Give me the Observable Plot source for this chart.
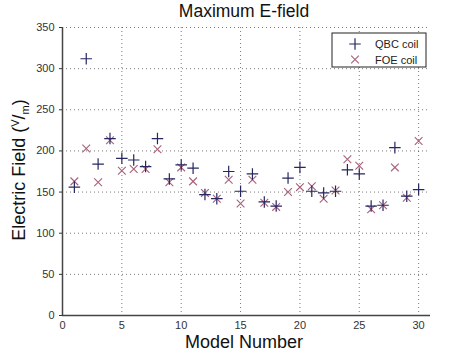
<!DOCTYPE html>
<html><head><meta charset="utf-8">
<script src="https://cdn.jsdelivr.net/npm/d3@7"></script>
<script src="https://cdn.jsdelivr.net/npm/@observablehq/plot@0.6"></script>
<style>body{margin:0;background:#fff} svg{font-family:"Liberation Sans",Arial,sans-serif}</style>
</head><body><div id="chart"></div>
<script>
const models = d3.range(1, 31);
const qbc = [156,312,184,215,191,189,181,215,166,183,179,147,142,175,151,172,138,133,167,180,151,149,151,177,172,133,134,204,145,153];
const foe = [163,203,162,213,176,178,178,202,162,180,163,149,142,165,136,165,137,132,150,156,157,142,152,190,182,129,134,180,143,212];
const xTicks = [0,5,10,15,20,25,30];
const yTicks = [0,50,100,150,200,250,300,350];
const seriesNames = ["QBC coil", "FOE coil"];
const colors = ["#262660", "#a8607a"];

const rows = models.map((m, i) => ({m, qbc: qbc[i], foe: foe[i]}));

const W = 474, H = 355, ML = 62, MR = 44, MT = 27, MB = 40;
const rPlus = 3.8, rTimes = 3.6;
const plot = Plot.plot({
  width: W, height: H,
  marginLeft: ML, marginRight: MR, marginTop: MT, marginBottom: MB,
  style: {fontFamily: '"Liberation Sans", Arial, sans-serif', fontSize: "11px", color: "#333"},
  x: {domain: [0, 31], ticks: xTicks, label: null, tickSize: 0, tickPadding: 6},
  y: {domain: [0, 350], ticks: yTicks, label: null, tickSize: 3, tickPadding: 5},
  marks: [
    Plot.gridX(xTicks.filter(d => d > 0), {stroke: "#222", strokeOpacity: 0.6, strokeDasharray: "1,3"}),
    Plot.gridY(yTicks.filter(d => d > 0), {stroke: "#222", strokeOpacity: 0.6, strokeDasharray: "1,3", x1: 0, x2: 31}),
    Plot.ruleX([0], {stroke: "#444", strokeWidth: 1.5}),
    Plot.ruleY([0], {stroke: "#444", strokeWidth: 1.5}),
    Plot.dot(rows, {x: "m", y: "foe", symbol: "times", r: rTimes, stroke: colors[1], strokeWidth: 1.1}),
    Plot.dot(rows, {x: "m", y: "qbc", symbol: "plus", r: rPlus, stroke: colors[0], strokeWidth: 1.2})
  ]
});
document.getElementById("chart").appendChild(plot);

const svg = d3.select(plot);
// title
svg.append("text").attr("x", 244).attr("y", 17).attr("text-anchor", "middle")
  .attr("font-size", 17.5).attr("fill", "#111").text("Maximum E-field");
// x label
svg.append("text").attr("x", 244).attr("y", 348).attr("text-anchor", "middle")
  .attr("font-size", 18).attr("fill", "#111").text("Model Number");
// y label
const yl = svg.append("text").attr("transform", "translate(25,170) rotate(-90)")
  .attr("text-anchor", "middle").attr("font-size", 18).attr("fill", "#111");
yl.append("tspan").text("Electric Field (");
yl.append("tspan").attr("font-size", 11).attr("dy", -6).text("V");
yl.append("tspan").attr("dy", 6).text("/");
yl.append("tspan").attr("font-size", 11).attr("dy", 4).text("m");
yl.append("tspan").attr("dy", -4).text(")");

// legend
const lg = svg.append("g").attr("text-anchor", "start");
lg.append("rect").attr("x", 332).attr("y", 33).attr("width", 94).attr("height", 34)
  .attr("fill", "#fff").attr("stroke", "#222").attr("stroke-width", 1);
const symPlus = d3.symbol(d3.symbolPlus, rPlus * rPlus * Math.PI)();
const symTimes = d3.symbol(d3.symbolTimes, rTimes * rTimes * Math.PI)();
[symPlus, symTimes].forEach((s, i) => {
  const y = 44 + i * 15.5;
  lg.append("path").attr("d", s).attr("transform", `translate(355,${y})`)
    .attr("fill", "none").attr("stroke", colors[i]).attr("stroke-width", i ? 1.1 : 1.2);
  lg.append("text").attr("x", 375).attr("y", y + 4).attr("font-size", 11).attr("fill", "#222").text(seriesNames[i]);
});
</script>
</body></html>
